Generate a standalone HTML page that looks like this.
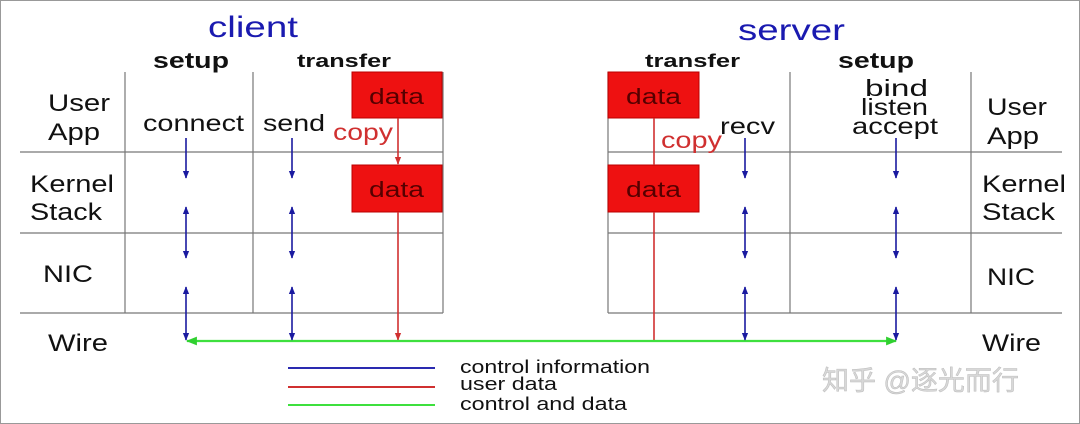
<!DOCTYPE html>
<html><head><meta charset="utf-8"><style>
body{margin:0;background:#fff}
svg{display:block}
text{font-family:"Liberation Sans","Noto Sans CJK SC",sans-serif}
</style></head><body>
<svg width="1080" height="424" viewBox="0 0 1080 424" xmlns="http://www.w3.org/2000/svg">
<defs>
<marker id="b" viewBox="0 0 10 10" refX="9" refY="5" markerWidth="5" markerHeight="5" orient="auto-start-reverse"><path d="M0,1 L10,5 L0,9 z" fill="#1a1aa0"/></marker>
<marker id="r" viewBox="0 0 10 10" refX="9" refY="5" markerWidth="5" markerHeight="5" orient="auto-start-reverse"><path d="M0,1 L10,5 L0,9 z" fill="#d03030"/></marker>
<marker id="g" viewBox="0 0 10 10" refX="9" refY="5" markerWidth="5" markerHeight="5" orient="auto-start-reverse"><path d="M0,1 L10,5 L0,9 z" fill="#30d030"/></marker>
<g id="arr">
<line x1="0" y1="138" x2="0" y2="178" marker-end="url(#b)"/>
<line x1="0" y1="207" x2="0" y2="258" marker-start="url(#b)" marker-end="url(#b)"/>
<line x1="0" y1="287" x2="0" y2="340" marker-start="url(#b)" marker-end="url(#b)"/>
</g>
</defs>
<rect x="0.5" y="0.5" width="1079" height="423" fill="#fff" stroke="#999"/>
<g stroke="#777" stroke-width="1.2" fill="none">
<line x1="20" y1="152" x2="443" y2="152"/><line x1="20" y1="233" x2="443" y2="233"/><line x1="20" y1="313" x2="443" y2="313"/>
<line x1="125" y1="72" x2="125" y2="313"/><line x1="253" y1="72" x2="253" y2="313"/><line x1="443" y1="72" x2="443" y2="313"/>
<line x1="608" y1="152" x2="1062" y2="152"/><line x1="608" y1="233" x2="1062" y2="233"/><line x1="608" y1="313" x2="1062" y2="313"/>
<line x1="608" y1="72" x2="608" y2="313"/><line x1="790" y1="72" x2="790" y2="313"/><line x1="971" y1="72" x2="971" y2="313"/>
</g>
<g fill="#ee1111" stroke="#b00" stroke-width="1">
<rect x="352" y="72" width="90" height="46"/><rect x="352" y="165" width="90" height="47"/>
<rect x="608" y="72" width="91" height="46"/><rect x="608" y="165" width="91" height="47"/>
</g>
<g font-size="22" fill="#550000" lengthAdjust="spacingAndGlyphs">
<text x="369" y="104" textLength="55" lengthAdjust="spacingAndGlyphs">data</text>
<text x="369" y="197" textLength="55" lengthAdjust="spacingAndGlyphs">data</text>
<text x="626" y="104" textLength="55" lengthAdjust="spacingAndGlyphs">data</text>
<text x="626" y="197" textLength="55" lengthAdjust="spacingAndGlyphs">data</text>
</g>
<g stroke="#d03030" stroke-width="1.6" fill="none">
<line x1="398" y1="118" x2="398" y2="164" marker-end="url(#r)"/>
<line x1="398" y1="212" x2="398" y2="340" marker-end="url(#r)"/>
<line x1="654" y1="118" x2="654" y2="165"/>
<line x1="654" y1="212" x2="654" y2="342"/>
</g>
<line x1="187" y1="341" x2="896" y2="341" stroke="#3ee03e" stroke-width="2.2" marker-start="url(#g)" marker-end="url(#g)"/>
<g stroke="#1a1aa0" stroke-width="1.6" fill="none">
<use href="#arr" x="186"/><use href="#arr" x="292"/><use href="#arr" x="745"/><use href="#arr" x="896"/>
</g>
<text x="208" y="37" font-size="30" fill="#1a1ab0" textLength="90" lengthAdjust="spacingAndGlyphs">client</text>
<text x="738" y="40" font-size="30" fill="#1a1ab0" textLength="107" lengthAdjust="spacingAndGlyphs">server</text>
<g font-weight="bold" fill="#111">
<text x="153" y="68" font-size="22" textLength="76" lengthAdjust="spacingAndGlyphs">setup</text>
<text x="297" y="67" font-size="18" textLength="94" lengthAdjust="spacingAndGlyphs">transfer</text>
<text x="645" y="67" font-size="18" textLength="95" lengthAdjust="spacingAndGlyphs">transfer</text>
<text x="838" y="68" font-size="22" textLength="76" lengthAdjust="spacingAndGlyphs">setup</text>
</g>
<g font-size="24" fill="#111">
<text x="48" y="111" textLength="62" lengthAdjust="spacingAndGlyphs">User</text>
<text x="48" y="140" textLength="52" lengthAdjust="spacingAndGlyphs">App</text>
<text x="30" y="192" textLength="84" lengthAdjust="spacingAndGlyphs">Kernel</text>
<text x="30" y="220" textLength="72" lengthAdjust="spacingAndGlyphs">Stack</text>
<text x="43" y="282" textLength="50" lengthAdjust="spacingAndGlyphs">NIC</text>
<text x="48" y="351" textLength="60" lengthAdjust="spacingAndGlyphs">Wire</text>
<text x="987" y="115" textLength="60" lengthAdjust="spacingAndGlyphs">User</text>
<text x="987" y="144" textLength="52" lengthAdjust="spacingAndGlyphs">App</text>
<text x="982" y="192" textLength="84" lengthAdjust="spacingAndGlyphs">Kernel</text>
<text x="982" y="220" textLength="73" lengthAdjust="spacingAndGlyphs">Stack</text>
<text x="987" y="285" textLength="48" lengthAdjust="spacingAndGlyphs">NIC</text>
<text x="982" y="351" textLength="59" lengthAdjust="spacingAndGlyphs">Wire</text>
</g>
<g font-size="23" fill="#111">
<text x="143" y="131" textLength="101" lengthAdjust="spacingAndGlyphs">connect</text>
<text x="263" y="131" textLength="62" lengthAdjust="spacingAndGlyphs">send</text>
<text x="720" y="134" textLength="55" lengthAdjust="spacingAndGlyphs">recv</text>
<text x="865" y="96" textLength="63" lengthAdjust="spacingAndGlyphs">bind</text>
<text x="861" y="115" textLength="67" lengthAdjust="spacingAndGlyphs">listen</text>
<text x="852" y="134" textLength="86" lengthAdjust="spacingAndGlyphs">accept</text>
</g>
<g font-size="23" fill="#d03030">
<text x="333" y="140" textLength="60" lengthAdjust="spacingAndGlyphs">copy</text>
<text x="661" y="148" textLength="61" lengthAdjust="spacingAndGlyphs">copy</text>
</g>
<line x1="288" y1="368" x2="435" y2="368" stroke="#2a2ab0" stroke-width="2"/>
<line x1="288" y1="387" x2="435" y2="387" stroke="#d03030" stroke-width="2"/>
<line x1="288" y1="405" x2="435" y2="405" stroke="#3ee03e" stroke-width="2"/>
<g font-size="18" fill="#111">
<text x="460" y="373" textLength="190" lengthAdjust="spacingAndGlyphs">control information</text>
<text x="460" y="390" textLength="97" lengthAdjust="spacingAndGlyphs">user data</text>
<text x="460" y="410" textLength="167" lengthAdjust="spacingAndGlyphs">control and data</text>
</g>
<text x="822" y="390" font-size="27" fill="#d8d8d8" stroke="#bbb" stroke-width="0.5">知乎 @逐光而行</text>
</svg>
</body></html>
